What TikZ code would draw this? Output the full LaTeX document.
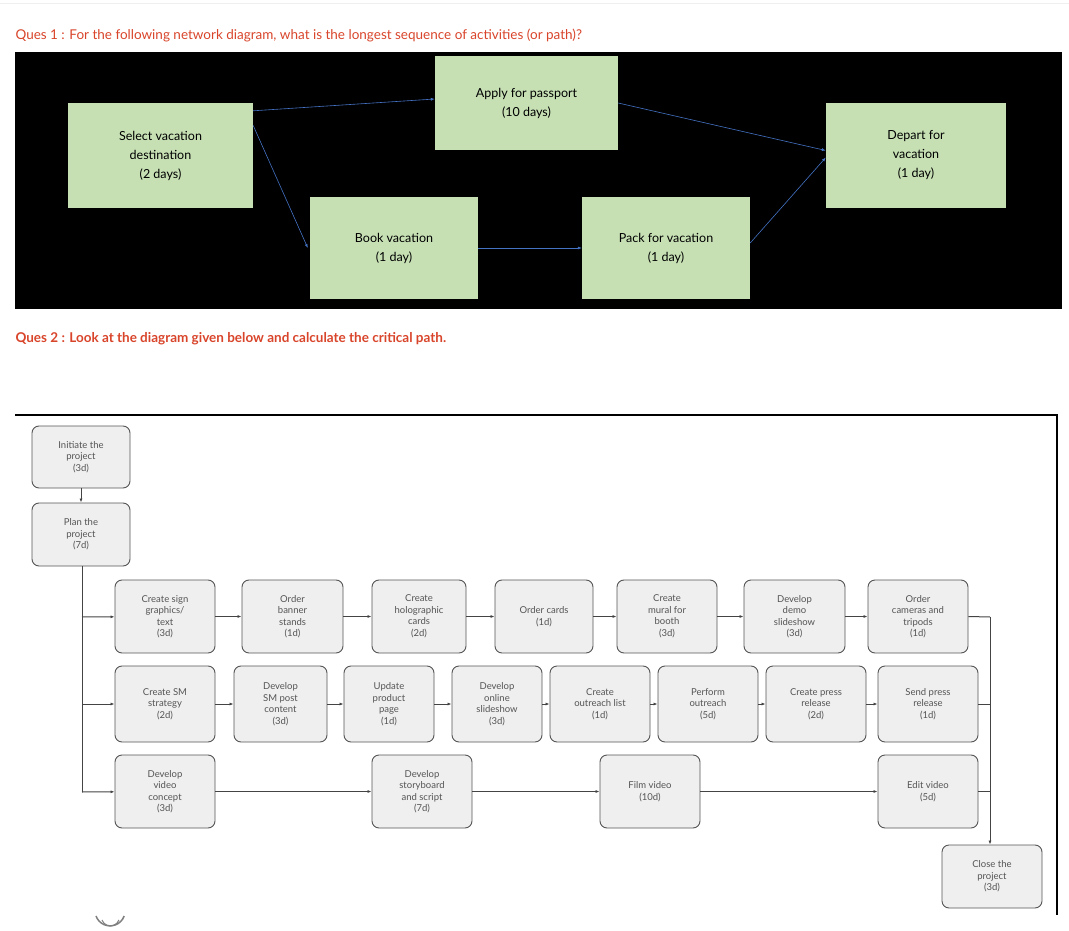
\documentclass[tikz,border=0pt]{standalone}
\usepackage{fontspec}
\setmainfont{Lato}
\usetikzlibrary{arrows.meta}
\definecolor{qred}{HTML}{D9452B}
\definecolor{gbox}{HTML}{C6E0B4}
\definecolor{barrow}{HTML}{4472C4}
\definecolor{lgray}{HTML}{EFEFEF}
\definecolor{dgray}{HTML}{555555}
\tikzset{
 green/.style={fill=gbox,draw=none,align=center,font=\fontsize{12.5}{19}\selectfont,text=black},
 gbx/.style={fill=lgray,draw=dgray,line width=0.9pt,rounded corners=7pt,align=center,font=\fontsize{9.5}{11.5}\selectfont,text=dgray,inner sep=1pt},
 barr/.style={draw=barrow,line width=0.6pt,-{Latex[length=4pt,width=3pt]}},
 karr/.style={draw=dgray!80!black,line width=1pt,-{Latex[length=4pt,width=3pt]}},
 kline/.style={draw=dgray!80!black,line width=1pt},
}
\newcommand{\bx}[6]{\node[gbx,minimum width=#3-#2,minimum height=#5-#4] (#1) at ({(#2+#3)/2},{(#4+#5)/2}) {#6};}
\begin{document}
\begin{tikzpicture}[x=1pt,y=-1pt]
\useasboundingbox (0,0) rectangle (1069,931);
\fill[white] (0,0) rectangle (1069,931);
\draw[lgray] (0,3)--(1069,3);
\node[anchor=west,text=qred,font=\fontsize{13.5}{16}\selectfont] (t1) at (12,35) {Ques 1 : For the following network diagram, what is the longest sequence of activities (or path)?};
\fill[black] (15,52) rectangle (1062,309);
\node[green,minimum width=185,minimum height=105] (sel) at (160.5,155.5) {Select vacation\\destination\\(2 days)};
\node[green,minimum width=183,minimum height=94] (app) at (526.5,103) {Apply for passport\\(10 days)};
\node[green,minimum width=168,minimum height=102] (book) at (394,248) {Book vacation\\(1 day)};
\node[green,minimum width=168,minimum height=102] (pack) at (666,248) {Pack for vacation\\(1 day)};
\node[green,minimum width=180,minimum height=105] (dep) at (916,155.5) {Depart for\\vacation\\(1 day)};
\draw[barr] (sel.north east) ++(0,8) -- ([yshift=4]app.west);
\draw[barr] (sel.east) ++(0,-30) -- ([xshift=-2]book.west);
\draw[barr] (book.east) -- (pack.west);
\draw[barr] (pack.east) ++(0,-5) -- ([yshift=-2]dep.west);
\draw[barr] (app.east) -- ([yshift=5]dep.west);
\node[anchor=west,text=qred,font=\bfseries\fontsize{13.5}{16}\selectfont] (t2) at (12,339) {Ques 2 : Look at the diagram given below and calculate the critical path.};
\draw[black,line width=1.2pt] (15,415)--(1057,415)--(1057,915);
\bx{ini}{32}{130}{426}{488}{Initiate the\\project\\(3d)}
\bx{pla}{32}{130}{503}{566}{Plan the\\project\\(7d)}
\bx{a1}{115}{215}{580}{653}{Create sign\\graphics/\\text\\(3d)}
\bx{a2}{242}{343}{580}{653}{Order\\banner\\stands\\(1d)}
\bx{a3}{372}{466}{580}{653}{Create\\holographic\\cards\\(2d)}
\bx{a4}{495}{593}{580}{653}{Order cards\\(1d)}
\bx{a5}{617}{717}{580}{653}{Create\\mural for\\booth\\(3d)}
\bx{a6}{744}{845}{580}{653}{Develop\\demo\\slideshow\\(3d)}
\bx{a7}{868}{968}{580}{653}{Order\\cameras and\\tripods\\(1d)}
\bx{b1}{115}{215}{666}{742}{Create SM\\strategy\\(2d)}
\bx{b2}{234}{327}{666}{742}{Develop\\SM post\\content\\(3d)}
\bx{b3}{344}{434}{666}{742}{Update\\product\\page\\(1d)}
\bx{b4}{452}{542}{666}{742}{Develop\\online\\slideshow\\(3d)}
\bx{b5}{550}{650}{666}{742}{Create\\outreach list\\(1d)}
\bx{b6}{658}{758}{666}{742}{Perform\\outreach\\(5d)}
\bx{b7}{766}{866}{666}{742}{Create press\\release\\(2d)}
\bx{b8}{878}{978}{666}{742}{Send press\\release\\(1d)}
\bx{c1}{115}{215}{755}{828}{Develop\\video\\concept\\(3d)}
\bx{c2}{372}{472}{755}{828}{Develop\\storyboard\\and script\\(7d)}
\bx{c3}{600}{700}{755}{828}{Film video\\(10d)}
\bx{c4}{878}{978}{755}{828}{Edit video\\(5d)}
\bx{cl}{942}{1042}{845}{908}{Close the\\project\\(3d)}
\draw[karr] (ini) -- (pla);
\draw[kline] (pla.south -| 82,0) -- (82,792);
\coordinate (j1) at (82,617); \coordinate (j2) at (82,704); \coordinate (j3) at (82,792);
\draw[karr] (j1) -- (a1); \draw[karr] (j2) -- (b1); \draw[karr] (j3) -- (c1);
\foreach \p/\q in {a1/a2,a2/a3,a3/a4,a4/a5,a5/a6,a6/a7,b1/b2,b2/b3,b3/b4,b4/b5,b5/b6,b6/b7,b7/b8,c1/c2,c2/c3,c3/c4} \draw[karr] (\p) -- (\q);
\coordinate (r1) at (990,617);
\draw[kline] (a7.east) -- (r1);
\draw[karr] (r1) -- (cl.north -| r1);
\draw[kline] (b8.east) -- (b8.east -| r1);
\draw[kline] (c4.east) -- (c4.east -| r1);
\draw[gray,line width=1.5pt] (96,916) arc (160:20:15);
\draw[gray,line width=1pt] (102,920) arc (160:20:9);
\end{tikzpicture}
\end{document}
